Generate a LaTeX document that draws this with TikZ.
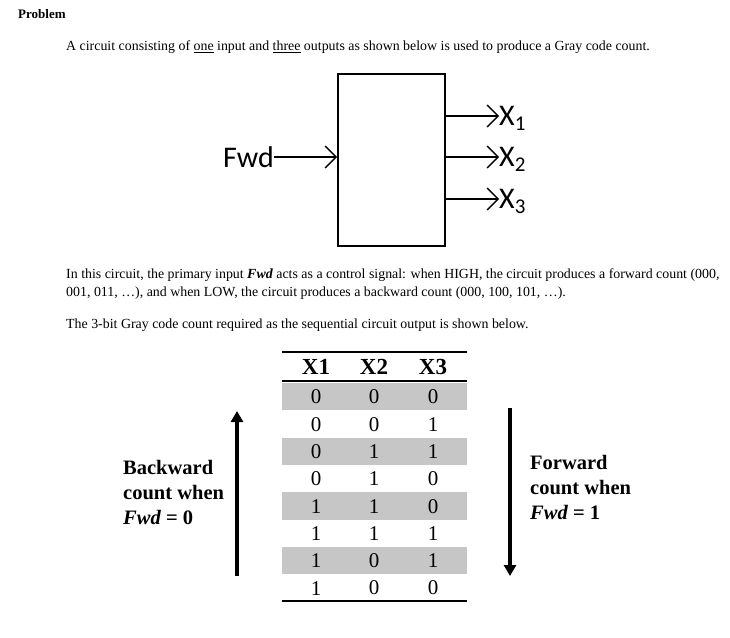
\documentclass[tikz,border=0pt]{standalone}
\usepackage{fontspec}
\setmainfont{Liberation Serif}
\newfontfamily\calib{Carlito}
\usetikzlibrary{arrows.meta}
\begin{document}
\begin{tikzpicture}[x=1pt,y=-1pt,
  body/.style={anchor=west,inner sep=0,font=\fontsize{13.9}{16}\selectfont},
  big/.style={inner sep=0,font=\calib\fontsize{30}{32}\selectfont},
  wire/.style={line width=1.4pt,-{Straight Barb[length=11pt,width=22pt,line width=1.4pt]}},
  cell/.style={inner sep=0,font=\fontsize{21}{23}\selectfont},
  hcell/.style={inner sep=0,font=\bfseries\fontsize{23}{25}\selectfont},
  side/.style={anchor=west,inner sep=0,align=left,font=\bfseries\fontsize{20.5}{25}\selectfont},
  varr/.style={line width=3.5pt,-{Triangle[length=11pt,width=12pt]}}]
\useasboundingbox (0,0) rectangle (730,637);
\node[body,font=\bfseries\fontsize{13}{15}\selectfont] (prob) at (18,14) {Problem};
\node[body] (l1) at (66,47) {A circuit consisting of \underline{one} input and \underline{three} outputs as shown below is used to produce a Gray code count.};
\node[draw,line width=1.8pt,minimum width=107pt,minimum height=172pt,inner sep=0] (box) at (391.5,160) {};
\node[big,anchor=east] (fwd) at (274,157) {Fwd};
\draw[wire] (fwd.east) -- (box.west |- fwd.east);
\foreach \i/\y in {1/116,2/157,3/199}{
  \coordinate (o\i) at (box.east |- 0,\y);
  \node[big,anchor=west] (x\i) at (499,\y+2) {X\textsubscript{\i}};
  \draw[wire] (o\i) -- (x\i.west |- o\i);
}
\node[body] (p1) at (66,275) {In this circuit, the primary input \textbf{\textit{Fwd}} acts as a control signal: when HIGH, the circuit produces a forward count (000,};
\node[body] (p2) at (66,293) {001, 011, \ldots), and when LOW, the circuit produces a backward count (000, 100, 101, \ldots).};
\node[body] (p3) at (66,325) {The 3-bit Gray code count required as the sequential circuit output is shown below.};
% table
\foreach \r in {0,2,4,6}{
  \fill[gray!45] (282,{383+27.3*\r}) rectangle (467,{383+27.3*(\r+1)});
}
\draw[line width=1.8pt] (282,352) -- (467,352);
\draw[line width=1.8pt] (282,381) -- (467,381);
\draw[line width=1.8pt] (282,601) -- (467,601);
\node[hcell] (h1) at (316,367) {X1};
\node[hcell] (h2) at (374,367) {X2};
\node[hcell] (h3) at (433,367) {X3};
\foreach \a/\b/\c [count=\r from 0] in {0/0/0,0/0/1,0/1/1,0/1/0,1/1/0,1/1/1,1/0/1,1/0/0}{
  \node[cell] (r\r a) at (316,{397+27.3*\r}) {\a};
  \node[cell] (r\r b) at (374,{397+27.3*\r}) {\b};
  \node[cell] (r\r c) at (433,{397+27.3*\r}) {\c};
}
\coordinate (ub) at (237,576);
\coordinate (ut) at (237,411);
\draw[varr] (ub) -- (ut);
\coordinate (dt) at (510,408);
\coordinate (db) at (510,576);
\draw[varr] (dt) -- (db);
\node[side] (back) at (123,492) {Backward\\count when\\\textit{Fwd} = 0};
\node[side] (forw) at (530,487) {Forward\\count when\\\textit{Fwd} = 1};
\end{tikzpicture}
\end{document}
